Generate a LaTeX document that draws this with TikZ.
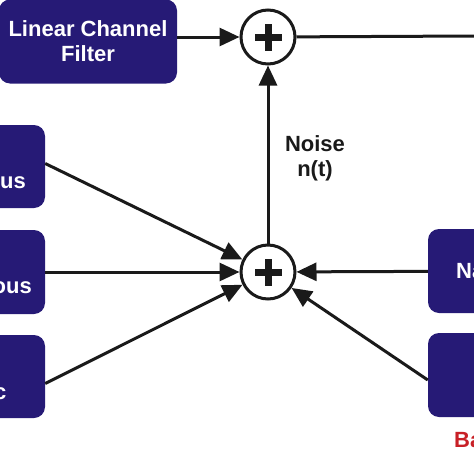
\documentclass[tikz,border=0pt]{standalone}
\usepackage{fontspec}
\setmainfont{Liberation Sans}
\usetikzlibrary{arrows.meta}
\definecolor{boxblue}{RGB}{38,26,118}
\definecolor{labelred}{RGB}{200,32,38}
\definecolor{ink}{RGB}{26,26,26}
\begin{document}
\begin{tikzpicture}[
	x=1pt, y=-1pt,
	font=\fontsize{22}{25}\selectfont\bfseries,
	blk/.style={rectangle,rounded corners=11pt,fill=boxblue,text=white,align=center,minimum height=84pt,minimum width=180pt},
	sum/.style={circle,draw=ink,line width=3pt,minimum size=54pt,inner sep=0pt,
		path picture={
			\fill [ink] ([xshift=-13.5pt,yshift=-3.5pt]path picture bounding box.center) rectangle ++(27pt,7pt);
			\fill [ink] ([xshift=-3.5pt,yshift=-13.5pt]path picture bounding box.center) rectangle ++(7pt,27pt);
		}},
	frag/.style={text=white,inner sep=0pt},
	wire/.style={draw=ink,line width=3pt},
	arr/.style={wire,-{Triangle[length=20pt,width=18pt]}},
	]
\useasboundingbox (0,0) rectangle (474,474);
\clip (0,0) rectangle (474,474);
\node [blk, minimum width=178pt] (filt) at (88,41.5) {Linear Channel\\Filter};
\node [sum] (sumtop) at (268,37) {};
\node [sum] (sumbot) at (268,272) {};
\node [blk, minimum height=83pt] (src1) at (-45,166.5) {};
\node [blk] (src2) at (-45,272) {};
\node [blk, minimum height=83pt] (src3) at (-45,376.5) {};
\node [blk] (nb) at (518,271) {};
\node [blk] (bb) at (518,375) {};
\node [frag, anchor=base east] (src1txt) at (26,188) {us};
\node [frag, anchor=base east] (src2txt) at (32,293) {ous};
\node [frag, anchor=base east] (src3txt) at (6.5,399) {c};
\node [frag, anchor=base west] (nbtxt) at (456,278) {Na};
\node [text=labelred, inner sep=0pt, anchor=base west] (bbtxt) at (454,447) {Ba};
\node [text=ink, align=center] (noise) at (315,158) {Noise\\n(t)};
\coordinate (out) at (474,36);
\draw [arr] (filt.east |- sumtop) -- (sumtop);
\draw [wire] (sumtop) -- (out);
\draw [arr] (sumbot) -- (sumtop);
\draw [arr] ([yshift=3pt]src1.east) -- (sumbot);
\draw [arr] (src2) -- (sumbot);
\draw [arr] ([yshift=-7pt]src3.east) -- (sumbot);
\draw [arr] (nb) -- (sumbot);
\draw [arr] ([yshift=-5pt]bb.west) -- (sumbot);
\end{tikzpicture}
\end{document}
